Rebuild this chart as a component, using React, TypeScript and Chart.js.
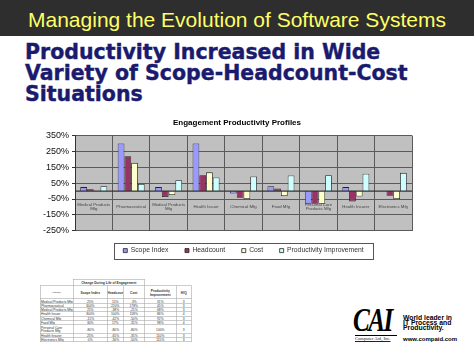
import React, { useEffect, useRef } from "react";
import { Chart, registerables } from "chart.js";

Chart.register(...registerables);

// ---- data ----
const categories: (string | string[])[] = [
  ["Medical Products", "Mfg"],
  "Pharmaceutical",
  ["Medical Products", "Mfg"],
  "Health Issuer",
  "Chemical Mfg",
  "Food Mfg",
  ["Personal Care", "Products Mfg"],
  "Health Insurer",
  "Electronics Mfg",
];
const industries = [
  "Medical Products Mfg",
  "Pharmaceutical",
  "Medical Products Mfg",
  "Health Issuer",
  "Chemical Mfg",
  "Food Mfg",
  "Personal Care Products Mfg",
  "Health Insurer",
  "Electronics Mfg",
];
const scopeIndex = [25, 300, 25, 300, -15, 30, -80, 25, 0];
const headcount = [11, 220, -38, 100, -42, 17, -80, -65, -30];
const cost = [-3, 178, -25, 118, -50, -31, -80, -35, -50];
const productivity = [31, 45, 68, 86, 92, 98, 100, 110, 115];
const hiq = [3, 3, 3, 4, 3, 4, 3, 3, 3];
const seriesNames = ["Scope Index", "Headcount", "Cost", "Productivity Improvement"];
const seriesColors = ["#9999FF", "#993366", "#FFFFCC", "#CCFFFF"];
const yMin = -250;
const yMax = 350;
const yStep = 100;

const FONT = "'Liberation Sans', Arial, sans-serif";

const bgPlugin = {
  id: "plotBg",
  beforeDraw(chart: any) {
    const { ctx, chartArea: a } = chart;
    ctx.save();
    ctx.fillStyle = "#C0C0C0";
    ctx.fillRect(a.left, a.top, a.right - a.left, a.bottom - a.top);
    ctx.restore();
  },
};

const overlayPlugin = {
  id: "overlay",
  afterDatasetsDraw(chart: any) {
    const { ctx, chartArea: a, scales } = chart;
    const y0 = scales.y.getPixelForValue(0);
    ctx.save();
    ctx.strokeStyle = "#333333";
    ctx.lineWidth = 1.2;
    ctx.beginPath();
    ctx.moveTo(a.left, y0);
    ctx.lineTo(a.right, y0);
    ctx.stroke();
    ctx.fillStyle = "#444";
    ctx.font = `4.3px ${FONT}`;
    ctx.textAlign = "center";
    ctx.textBaseline = "middle";
    categories.forEach((c, i) => {
      const x = scales.x.getPixelForValue(i);
      const lines = Array.isArray(c) ? c : [c];
      const lh = 3.9;
      const start = y0 + 15.5 - ((lines.length - 1) * lh) / 2;
      lines.forEach((l, j) => ctx.fillText(l, x, start + j * lh));
    });
    ctx.restore();
  },
  afterDraw(chart: any) {
    const lg = chart.legend;
    if (!lg || !lg.legendHitBoxes || !lg.legendHitBoxes.length) return;
    const hb = lg.legendHitBoxes;
    const first = hb[0];
    const last = hb[hb.length - 1];
    const ctx = chart.ctx;
    ctx.save();
    ctx.strokeStyle = "#555";
    ctx.lineWidth = 1;
    const l = Math.round(first.left - 9) + 0.5;
    const r = Math.round(last.left + last.width + 9) + 0.5;
    const t = Math.round(first.top - 4.5) + 0.5;
    const b = Math.round(first.top + first.height + 4.5) + 0.5;
    ctx.strokeRect(l, t, r - l, b - t);
    ctx.restore();
  },
};

function ChartBox() {
  const ref = useRef<HTMLCanvasElement | null>(null);
  useEffect(() => {
    if (!ref.current) return;
    const data = [scopeIndex, headcount, cost, productivity];
    const chart = new Chart(ref.current, {
      type: "bar",
      data: {
        labels: categories as any,
        datasets: data.map((d, i) => ({
          label: seriesNames[i],
          data: d,
          backgroundColor: seriesColors[i],
          borderColor: "#222",
          borderWidth: 0.8,
          categoryPercentage: 0.72,
          barPercentage: 1.0,
        })),
      },
      options: {
        animation: false,
        responsive: false,
        maintainAspectRatio: false,
        layout: { padding: { left: 0, right: 0, top: 0, bottom: 2 } },
        plugins: {
          title: {
            display: true,
            text: "Engagement Productivity Profiles",
            color: "#000",
            font: { family: FONT, size: 8, weight: "bold" },
            padding: { top: 8, bottom: 8 },
          },
          legend: {
            position: "bottom",
            fullSize: false,
            labels: {
              boxWidth: 4,
              boxHeight: 4,
              padding: 16.5,
              color: "#333",
              font: { family: FONT, size: 6.8 },
            },
          },
          tooltip: { enabled: false },
        },
        scales: {
          x: {
            grid: { display: true, color: "#5a5a5a", drawTicks: false, offset: true },
            ticks: { display: false },
            border: { display: false },
          },
          y: {
            min: yMin,
            max: yMax,
            ticks: {
              stepSize: yStep,
              color: "#111",
              padding: 3,
              font: { family: FONT, size: 9 },
              callback: (v: any) => `${v}%`,
            },
            grid: { color: "#5a5a5a", tickLength: 3, tickColor: "#333" },
            border: { color: "#333" },
            afterFit: (s: any) => {
              s.width = 75;
            },
          },
          y2: {
            position: "right",
            display: true,
            grid: { display: false, drawTicks: false },
            ticks: { display: false },
            border: { display: false },
            afterFit: (s: any) => {
              s.width = 62;
            },
          },
        },
      } as any,
      plugins: [bgPlugin, overlayPlugin],
    });
    return () => chart.destroy();
  }, []);
  return (
    <canvas
      ref={ref}
      width={474}
      height={156}
      style={{ position: "absolute", left: 0, top: 110, width: 474, height: 156 }}
    />
  );
}

// table drawn at 2x, then scaled by 0.5
const colW = [66, 68, 32, 42, 64, 30];
const ROW = 8.6;

function DataTable() {
  const cell: React.CSSProperties = {
    border: "1px solid #999",
    padding: 0,
    textAlign: "center",
    lineHeight: "7px",
    whiteSpace: "nowrap",
    overflow: "hidden",
    verticalAlign: "middle",
  };
  const fmt = (v: number) => `${v}%`;
  const none: React.CSSProperties = { ...cell, border: "none" };
  return (
    <div
      style={{
        position: "absolute",
        left: 40,
        top: 279,
        width: 302,
        fontFamily: FONT,
        fontSize: 6.6,
        color: "#333",
        transform: "scale(0.5)",
        transformOrigin: "left top",
      }}
    >
      <table style={{ borderCollapse: "collapse", tableLayout: "fixed", width: 302 }}>
        <colgroup>
          {colW.map((w, i) => (
            <col key={i} style={{ width: w }} />
          ))}
        </colgroup>
        <tbody>
          <tr style={{ height: 13.4 }}>
            <td style={none} />
            <td colSpan={3} style={{ ...cell, fontWeight: "bold" }}>
              Change During Life of Engagement
            </td>
            <td style={none} />
            <td style={none} />
          </tr>
          <tr style={{ height: 26 }}>
            <td style={{ ...cell, fontSize: 5 }}>Industry</td>
            <td style={{ ...cell, fontWeight: "bold" }}>Scope Index</td>
            <td style={{ ...cell, fontWeight: "bold" }}>Headcount</td>
            <td style={{ ...cell, fontWeight: "bold" }}>Cost</td>
            <td style={{ ...cell, fontWeight: "bold", whiteSpace: "normal" }}>
              Productivity Improvement
            </td>
            <td style={{ ...cell, fontWeight: "bold" }}>HIQ</td>
          </tr>
          {industries.map((name, i) => {
            const h = i === 6 ? ROW * 2 : ROW;
            return (
              <tr key={i} style={{ height: h }}>
                <td style={{ ...cell, textAlign: "left", whiteSpace: "normal", paddingLeft: 1 }}>{name}</td>
                <td style={cell}>{fmt(scopeIndex[i])}</td>
                <td style={cell}>{fmt(headcount[i])}</td>
                <td style={cell}>{fmt(cost[i])}</td>
                <td style={cell}>{fmt(productivity[i])}</td>
                <td style={cell}>{hiq[i]}</td>
              </tr>
            );
          })}
        </tbody>
      </table>
    </div>
  );
}

export default function App() {
  useEffect(() => {
    document.body.style.margin = "0";
    document.body.style.background = "#fff";
  }, []);
  return (
    <div
      style={{
        position: "absolute",
        left: 0,
        top: 0,
        width: 474,
        height: 355,
        overflow: "hidden",
        background: "#fff",
      }}
    >
      <div
        style={{
          position: "absolute",
          left: 0,
          top: 0,
          width: 474,
          height: 36,
          background: "#2e2e2e",
        }}
      />
      <div
        style={{
          position: "absolute",
          left: 28,
          top: 7,
          fontFamily: FONT,
          fontSize: 21,
          lineHeight: "25px",
          color: "#FFFF66",
          whiteSpace: "nowrap",
        }}
      >
        Managing the Evolution of Software Systems
      </div>
      <div
        style={{
          position: "absolute",
          left: 25,
          top: 42,
          fontFamily: "'DejaVu Sans', sans-serif",
          fontWeight: "bold",
          fontSize: 20.5,
          lineHeight: "21px",
          color: "#1a1a6e",
          whiteSpace: "nowrap",
          WebkitTextStroke: "0.4px #1a1a6e",
        }}
      >
        Productivity Increased in Wide
        <br />
        Variety of Scope-Headcount-Cost
        <br />
        Situations
      </div>
      <ChartBox />
      <DataTable />
      <div
        style={{
          position: "absolute",
          left: 353,
          top: 302,
          fontFamily: "'Liberation Serif', 'Times New Roman', serif",
          fontWeight: "bold",
          fontStyle: "italic",
          fontSize: 34,
          lineHeight: "36px",
          color: "#000",
          transform: "scaleX(0.74)",
          transformOrigin: "left top",
          letterSpacing: -2,
        }}
      >
        CAI
      </div>
      <div
        style={{
          position: "absolute",
          left: 355,
          top: 335,
          width: 42,
          borderTop: "0.8px solid #000",
        }}
      />
      <div
        style={{
          position: "absolute",
          left: 355,
          top: 335.5,
          fontFamily: "'Liberation Serif', serif",
          fontSize: 4.6,
          lineHeight: "5px",
          color: "#222",
          whiteSpace: "nowrap",
          textDecoration: "underline",
        }}
      >
        Computer Aid, Inc.
      </div>
      <div
        style={{
          position: "absolute",
          left: 403,
          top: 314.5,
          fontFamily: FONT,
          fontWeight: "bold",
          fontSize: 6.8,
          lineHeight: "5.4px",
          color: "#000",
          whiteSpace: "nowrap",
        }}
      >
        World leader in
        <br />
        IT Process and
        <br />
        Productivity.
      </div>
      <div
        style={{
          position: "absolute",
          left: 403,
          top: 335.5,
          fontFamily: FONT,
          fontWeight: "bold",
          fontSize: 6,
          lineHeight: "6px",
          color: "#000",
          whiteSpace: "nowrap",
        }}
      >
        www.compaid.com
      </div>
    </div>
  );
}
